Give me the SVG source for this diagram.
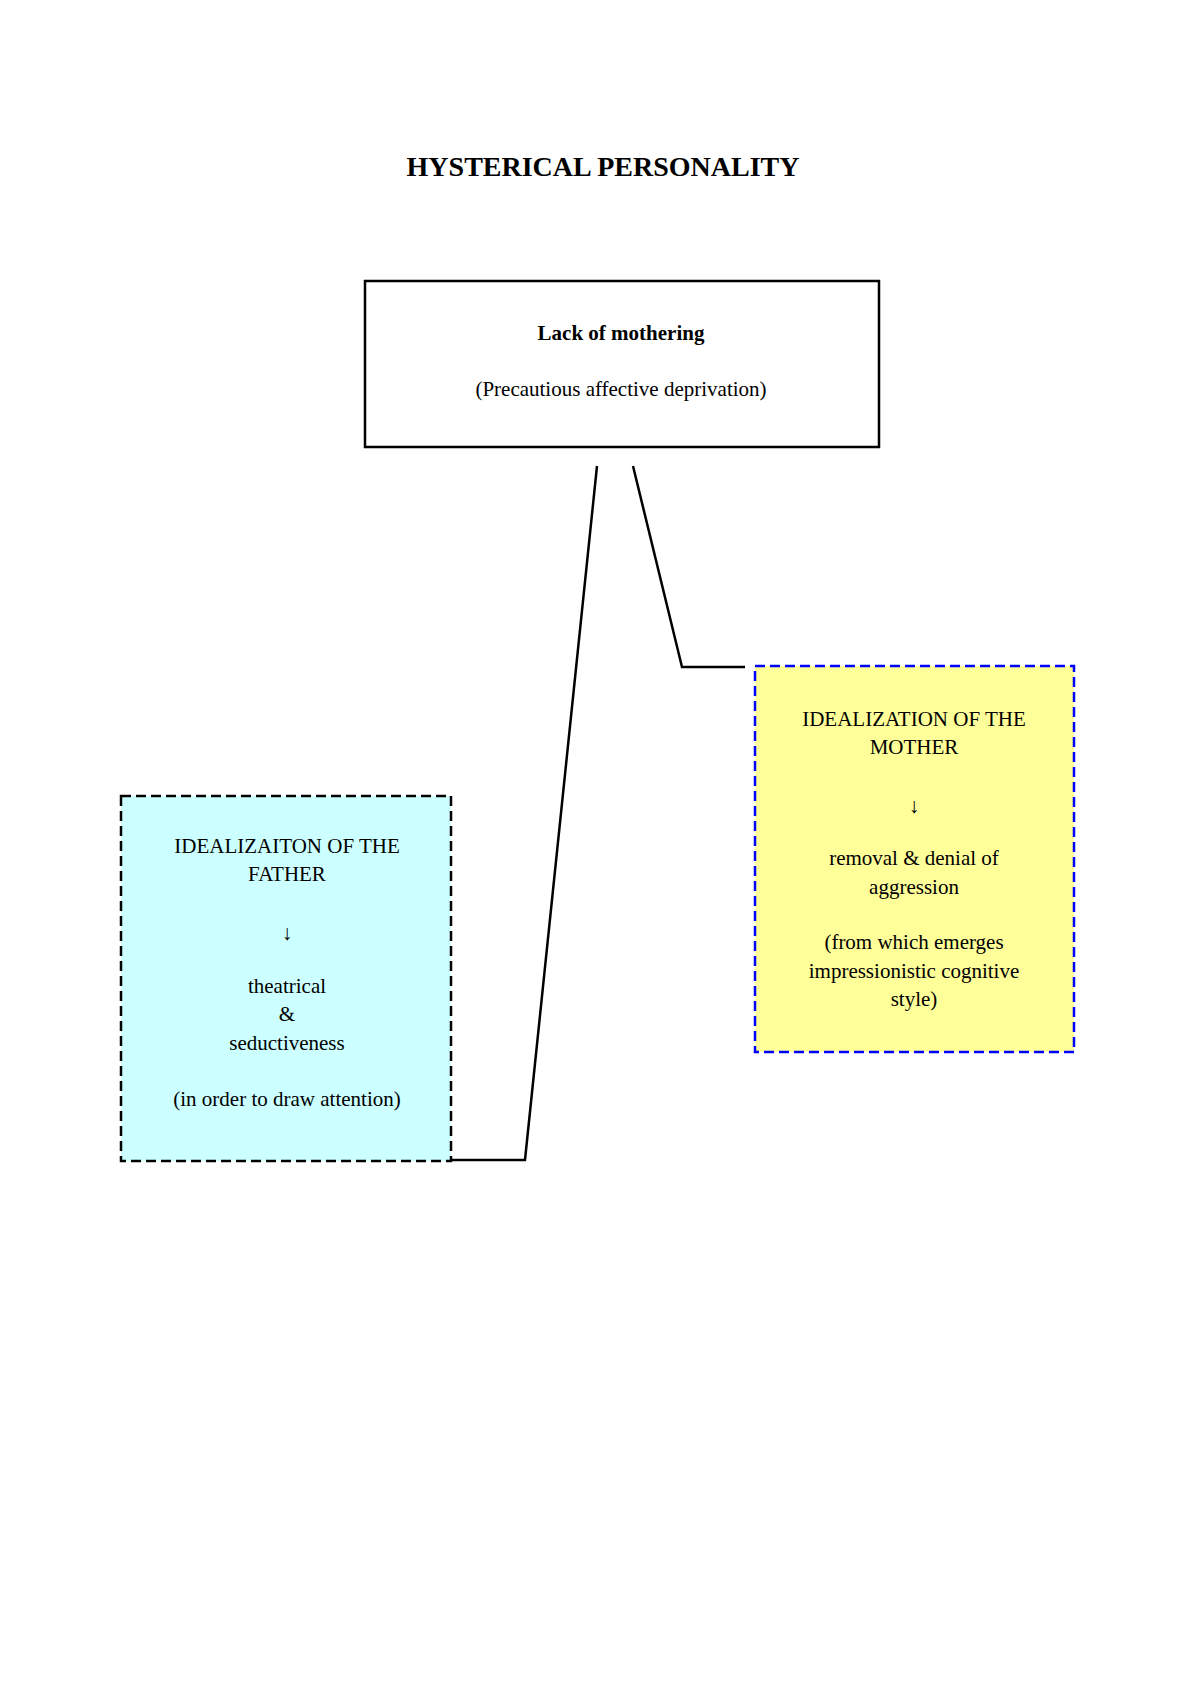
<svg xmlns="http://www.w3.org/2000/svg" width="1200" height="1696" viewBox="0 0 1200 1696">
<style>
text{font-family:"Liberation Serif","Times New Roman",serif;font-size:21px;fill:#000;text-anchor:middle}
.b{font-weight:bold}
.line{fill:none;stroke:#000;stroke-width:2.5}
</style>
<rect width="1200" height="1696" fill="#fff"/>
<text class="b" x="603" y="176" style="font-size:28px">HYSTERICAL PERSONALITY</text>
<g id="lack">
<rect x="365" y="281" width="514" height="166" fill="#fff" stroke="#000" stroke-width="2.5"/>
<text class="b" x="621" y="340">Lack of mothering</text>
<text x="621" y="396">(Precautious affective deprivation)</text>
</g>
<g id="connectors">
<polyline class="line" points="597,466 525,1160 451,1160"/>
<polyline class="line" points="633,466 682,667 745,667"/>
</g>
<g id="father">
<rect x="121" y="796" width="330" height="365" fill="#ccffff" stroke="#000" stroke-width="2.5" stroke-dasharray="10,5"/>
<text x="287" y="853">IDEALIZAITON OF THE</text>
<text x="287" y="881">FATHER</text>
<text x="287" y="940">↓</text>
<text x="287" y="993">theatrical</text>
<text x="287" y="1021">&amp;</text>
<text x="287" y="1050">seductiveness</text>
<text x="287" y="1106">(in order to draw attention)</text>
</g>
<g id="mother">
<rect x="755" y="666" width="319" height="386" fill="#ffff99" stroke="#0000ff" stroke-width="2.5" stroke-dasharray="10,5"/>
<text x="914" y="726">IDEALIZATION OF THE</text>
<text x="914" y="754">MOTHER</text>
<text x="914" y="813">↓</text>
<text x="914" y="865">removal &amp; denial of</text>
<text x="914" y="894">aggression</text>
<text x="914" y="949">(from which emerges</text>
<text x="914" y="978">impressionistic cognitive</text>
<text x="914" y="1006">style)</text>
</g>
</svg>
